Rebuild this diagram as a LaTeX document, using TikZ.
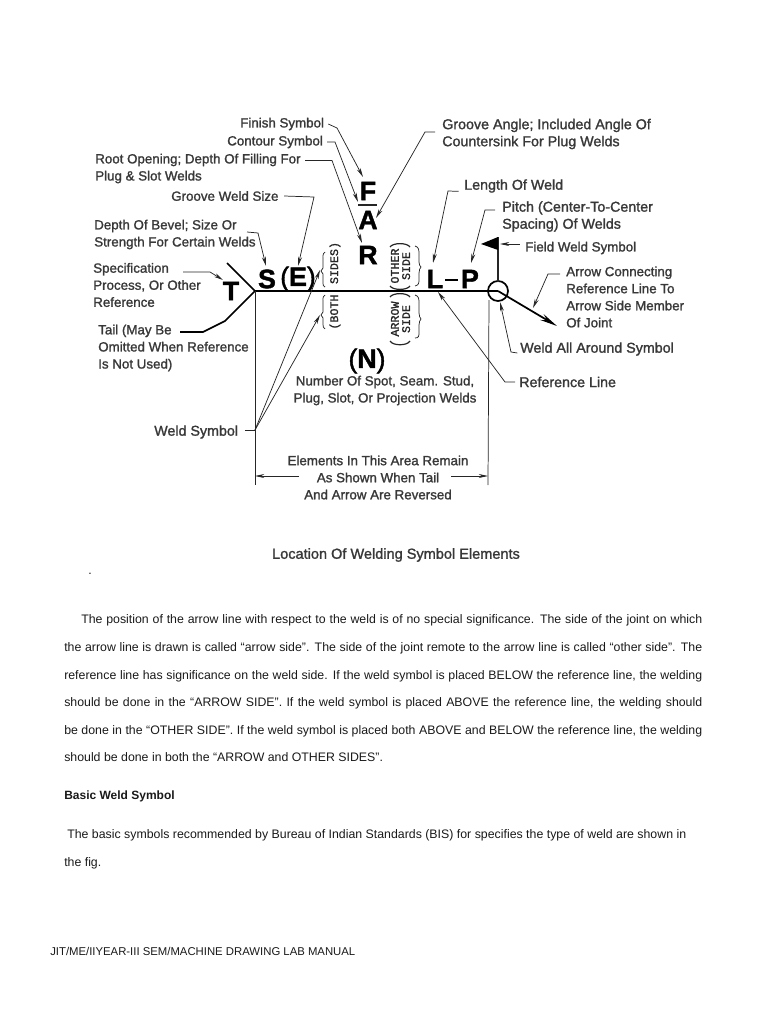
\documentclass[tikz,border=0pt]{standalone}
\usepackage{fontspec}
\setmainfont{Liberation Sans}
\setmonofont{Liberation Mono}
\newfontfamily\diagfont[FakeBold=1.4]{Liberation Sans}
\newfontfamily\rotfont[FakeBold=1.2]{Liberation Mono}
\newfontfamily\bigfont[FakeBold=1.5]{Liberation Sans Bold}
\usetikzlibrary{arrows.meta,calc}
\newcommand{\jline}[2]{\makebox[#1][s]{#2}}
\tikzset{
  x=0.75pt,y=-0.75pt,
  lab/.style={inner sep=0pt,anchor=west,align=left,text=black!78,font=\diagfont\fontsize{10}{12.8}\selectfont},
  labw/.style={lab,font=\diagfont\fontsize{10.7}{12.8}\selectfont},
  labc/.style={lab,anchor=center,align=center},
  big/.style={inner sep=0pt,font=\bigfont\fontsize{20}{20}\selectfont},
  rot/.style={inner sep=0pt,rotate=90,align=center,text=black!85,font=\rotfont\fontsize{8.75}{8.4}\selectfont},
  body/.style={inner sep=0pt,anchor=base west,text=black!90,font=\fontsize{9.25}{11}\selectfont},
  conn/.style={draw=black!85,line width=0.55pt},
  tip/.style={conn,-{Stealth[length=7pt,width=3pt]}},
  heavy/.style={draw=black,line width=1.2pt},
  paren/.style={draw=black!85,line width=0.9pt}
}
\begin{document}
\begin{tikzpicture}
\useasboundingbox (0,0) rectangle (768,1024);
% labels
\node[lab] (finish) at (240,124) {Finish Symbol};
\node[lab] (contour) at (227,142) {Contour Symbol};
\node[lab] (root) at (95,168.5) {Root Opening; Depth Of Filling For\\Plug \& Slot Welds};
\coordinate (rootout) at (305,160.5);
\node[lab] (gsize) at (171,196) {Groove Weld Size};
\node[lab] (bevel) at (94,234.5) {Depth Of Bevel; Size Or\\Strength For Certain Welds};
\coordinate (bevelout) at (247,232);
\node[lab] (spec) at (93,285) {Specification\\Process, Or Other\\Reference};
\coordinate (specout) at (183,272);
\node[lab] (tail) at (98,348) {Tail (May Be\\Omitted When Reference\\Is Not Used)};
\coordinate (tailout) at (180,332);
\node[labw] (gangle) at (442,134) {Groove Angle; Included Angle Of\\Countersink For Plug Welds};
\coordinate (gangleout) at (435,132);
\node[labw] (length) at (464,186) {Length Of Weld};
\node[labw] (pitch) at (502,216.5) {Pitch (Center-To-Center\\Spacing) Of Welds};
\coordinate (pitchout) at (495,210);
\node[lab] (field) at (525,248) {Field Weld Symbol};
\node[lab] (arrowtxt) at (566,297) {Arrow Connecting\\Reference Line To\\Arrow Side Member\\Of Joint};
\coordinate (arrowout) at (560,274);
\node[labw] (allaround) at (520,349) {Weld All Around Symbol};
\node[labw] (refl) at (519,382) {Reference Line};
\node[labc] (number) at (385,390.5) {Number Of Spot, Seam. Stud,\\Plug, Slot, Or Projection Welds};
\node[labw] (weld) at (154,432) {Weld Symbol};
\node[labc] (elements) at (378,477.5) {Elements In This Area Remain\\As Shown When Tail\\And Arrow Are Reversed};
\node[labc,font=\diagfont\fontsize{10.9}{13}\selectfont] (title) at (396,555) {Location Of Welding Symbol Elements};
% element letters
\node[big] (T) at (231,291) {T};
\node[big] (S) at (267,279) {S};
\node[big] (E) at (298,279) {{\diagfont(}E{\diagfont)}};
\node[big] (F) at (368,191) {F};
\node[big] (A) at (368,220) {A};
\node[big] (R) at (368,255) {R};
\node[big] (L) at (435,279) {L};
\node[big] (P) at (470,279) {P};
\node[big] (N) at (367,361) {{\diagfont(}N{\diagfont)}};
\node[rot] (sides) at (335,263) {SIDES)};
\node[rot] (both) at (335,312) {(BOTH};
\node[rot] (other) at (400.5,266) {OTHER\\SIDE};
\node[rot] (arrowside) at (400.5,319) {ARROW\\SIDE};
% rounded parentheses round the rotated labels
\draw[paren] (390,247) .. controls (393,242.5) and (407,242.5) .. (410,247);
\draw[paren] (390,286) .. controls (393,290.5) and (407,290.5) .. (410,286);
\draw[paren] (390,297) .. controls (393,292.5) and (407,292.5) .. (410,297);
\draw[paren] (390,341) .. controls (393,346) and (407,346) .. (410,341);
% reference geometry
\coordinate (tailjoin) at (255,291);
\coordinate (circ) at (498,291);
\coordinate (tailup) at (227,263);
\coordinate (leftend) at (255,485);
\coordinate (rightend) at (488,485);
\coordinate (righttop) at (489,300);
\draw[heavy] (tailjoin) -- (circ);
\draw[heavy] (tailup) -- (tailjoin);
\draw[heavy] (tailout) -- (203,332) -- (225,321) -- (tailjoin);
\draw[conn] (tailjoin) -- (leftend);
\draw[conn] (righttop) -- (rightend);
\draw[heavy,line width=1.3pt] (circ) circle[radius=10];
% L-P dash
\draw[heavy,line width=1.4pt] (445,280) coordinate (dashl) -- (458,280) coordinate (dashr);
% F bar
\draw[conn,line width=0.8pt] (358,205) coordinate (barl) -- (377,205) coordinate (barr);
% flag
\coordinate (flagtop) at (498,237);
\coordinate (flagtip) at (481,244);
\coordinate (flagbot) at (498,250);
\draw[conn,line width=0.9pt] (498,282) coordinate (flagfoot) -- (flagtop);
\fill[black] (flagtop) -- (flagtip) -- (flagbot) -- cycle;
% arrow
\coordinate (arrowhead) at (557,326);
\draw[heavy,line width=1.3pt,-{Stealth[length=13pt,width=5pt]}] (circ) -- (arrowhead);
% connectors
\draw[tip] ([xshift=3pt]finish.east) -- (337,128) -- (363,177);
\draw[tip] ([xshift=3pt]contour.east) -- (335,142) -- (358,202);
\draw[tip] (rootout) -- (332,160.5) -- (362,243);
\draw[tip] ([xshift=4pt]gsize.east) -- (314,197) -- (298,266);
\draw[tip] (bevelout) -- (258,233) -- (266,266);
\draw[tip] (specout) -- (210,272) -- (223,280);
\draw[tip] (gangleout) -- (425,132) -- (376,218);
\draw[tip] ([xshift=-4pt,yshift=-4pt]length.west) -- (448,191) -- (433,263);
\draw[tip] (pitchout) -- (485,210) -- (471,263);
\draw[tip] ([xshift=-4pt,yshift=3pt]field.west) -- (500,244);
\draw[tip] (arrowout) -- (548,274) -- (533,308);
\draw[tip] ([xshift=-2pt,yshift=-3pt]allaround.west) -- (511,352) -- (500,302);
\draw[tip] ([xshift=-3pt]refl.west) -- (505,382) -- (438,292);
\draw[conn] ([xshift=5pt,yshift=1.5pt]weld.east) -- (255,430);
\draw[tip] (255,430) coordinate (wj) -- (320,270);
\draw[tip] (wj) -- (320,315);
% brackets
\draw[conn] (325,252) .. controls (322,254) and (323,258) .. (323,262) -- (323,268) -- (321,271) -- (323,274) -- (323,283) .. controls (323,285) and (323,286) .. (325,287);
\draw[conn] (325,295) .. controls (322,297) and (323,300) .. (323,304) -- (323,312) -- (321,315) -- (323,318) -- (323,324) .. controls (323,326) and (323,328) .. (325,329);
\draw[conn] (415,246) .. controls (419,247) and (419,250) .. (419,255) -- (419,262) .. controls (419,265) and (420,266) .. (421,267) .. controls (420,268) and (419,270) .. (419,273) -- (419,279) .. controls (419,283) and (419,285) .. (415,286);
\draw[conn] (415,295) .. controls (419,296) and (419,299) .. (419,304) -- (419,313) .. controls (419,316) and (420,318) .. (421,319) .. controls (420,320) and (419,322) .. (419,325) -- (419,332) .. controls (419,336) and (419,338) .. (415,338);
% dimension
\coordinate (dimL) at (299,476);
\coordinate (dimR) at (451,476);
\draw[conn,-{Stealth[length=7pt,width=3pt]}] (dimL) -- (255,476);
\draw[conn,-{Stealth[length=7pt,width=3pt]}] (dimR) -- (488,476);
% body text
\node[body] (dot) at (88,574) {.};
\node[body] (p1) at (81,623) {\jline{465.75pt}{The position of the arrow line with respect to the weld is of no special significance. The side of the joint on which}};
\node[body] (p2) at (64,651) {\jline{478.5pt}{the arrow line is drawn is called “arrow side”. The side of the joint remote to the arrow line is called “other side”. The}};
\node[body] (p3) at (64,679) {\jline{478.5pt}{reference line has significance on the weld side. If the weld symbol is placed BELOW the reference line, the welding}};
\node[body] (p4) at (64,706) {\jline{478.5pt}{should be done in the “ARROW SIDE”. If the weld symbol is placed ABOVE the reference line, the welding should}};
\node[body] (p5) at (64,734) {\jline{478.5pt}{be done in the “OTHER SIDE”. If the weld symbol is placed both ABOVE and BELOW the reference line, the welding}};
\node[body] (p6) at (64,761) {should be done in both the “ARROW and OTHER SIDES”.};
\node[body,font=\bfseries\fontsize{9}{11}\selectfont] (h) at (64,799) {Basic Weld Symbol};
\node[body] (q1) at (67,838) {\jline{464.25pt}{The basic symbols recommended by Bureau of Indian Standards (BIS) for specifies the type of weld are shown in}};
\node[body] (q2) at (64,866) {the fig.};
\node[body,font=\fontsize{8.5}{11}\selectfont] (foot) at (50,955) {JIT/ME/IIYEAR-III SEM/MACHINE DRAWING LAB MANUAL};
\end{tikzpicture}
\end{document}
